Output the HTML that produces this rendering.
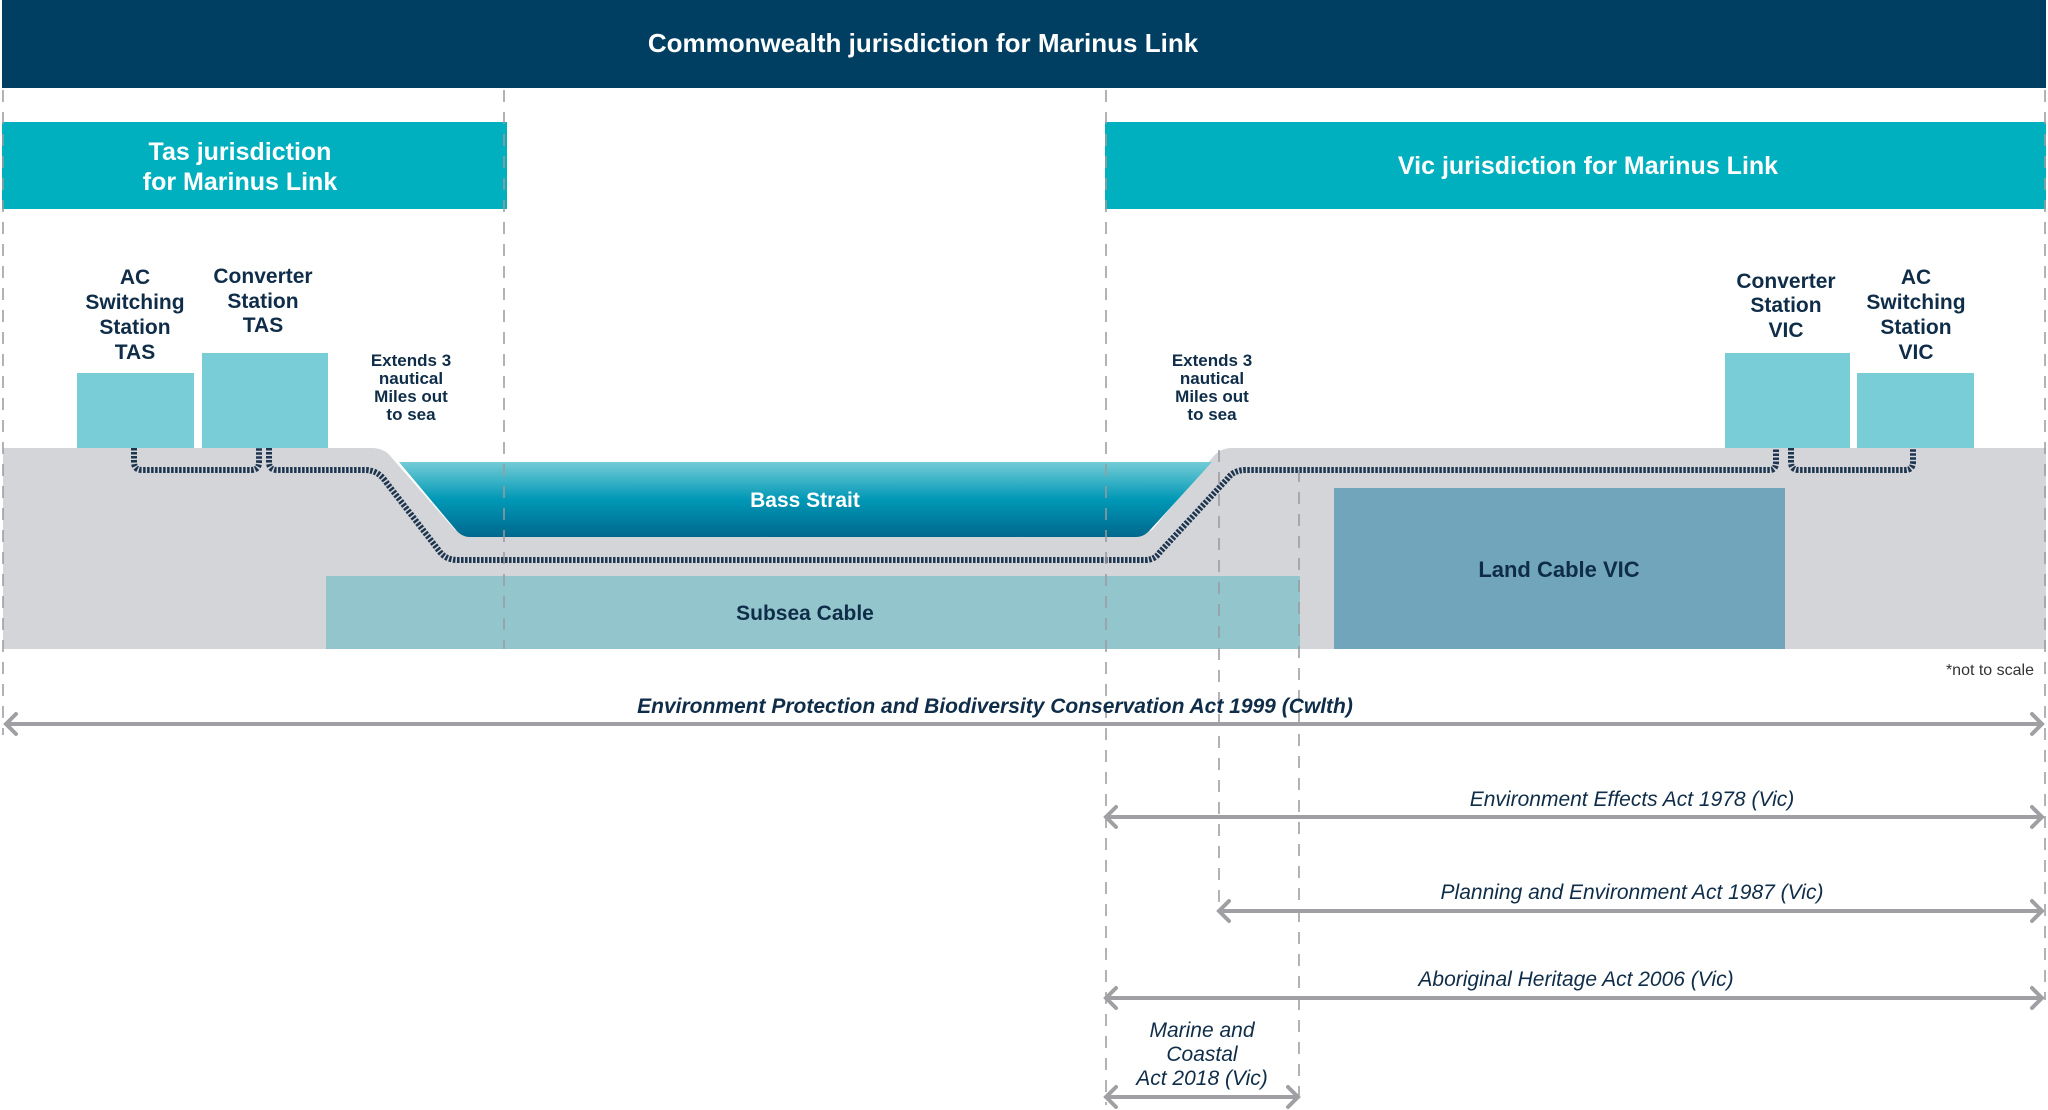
<!DOCTYPE html>
<html><head><meta charset="utf-8"><style>
html,body{margin:0;padding:0;background:#fff;}
svg{display:block;font-family:"Liberation Sans",sans-serif;}
</style></head><body>
<svg width="2048" height="1110" viewBox="0 0 2048 1110" xmlns="http://www.w3.org/2000/svg">
<defs>
<linearGradient id="w" x1="0" y1="0" x2="0" y2="1">
<stop offset="0" stop-color="#74ccd6"/><stop offset="0.5" stop-color="#0098b6"/><stop offset="1" stop-color="#00688e"/>
</linearGradient>
</defs>
<rect x="2" y="0" width="2044" height="88" fill="#003f62"/>
<text x="923" y="52" font-size="26" font-weight="bold" fill="#fff" text-anchor="middle">Commonwealth jurisdiction for Marinus Link</text>
<rect x="2" y="122" width="505" height="87" fill="#00b0be"/>
<text x="240" y="160" font-size="25" font-weight="bold" fill="#fff" text-anchor="middle">Tas jurisdiction</text>
<text x="240" y="190" font-size="25" font-weight="bold" fill="#fff" text-anchor="middle">for Marinus Link</text>
<rect x="1105" y="122" width="941" height="87" fill="#00b0be"/>
<text x="1588" y="174" font-size="25" font-weight="bold" fill="#fff" text-anchor="middle">Vic jurisdiction for Marinus Link</text>

<!-- ground -->
<path d="M3 448 H372 Q385 448 392 458 L455 530 L470 537 H1138 L1152 530 L1212 458 Q1220 448 1232 448 H2046 V649 H3 Z" fill="#d3d5d8"/>
<path d="M399 462 H1212 L1150 530 Q1144 537 1136 537 H470 Q462 537 456 530 Z" fill="url(#w)"/>
<rect x="326" y="576" width="974" height="73" fill="#93c6cc"/>
<rect x="1334" y="488" width="451" height="161" fill="#70a5bb"/>
<text x="805" y="507" font-size="21" font-weight="bold" fill="#fff" text-anchor="middle">Bass Strait</text>
<text x="805" y="620" font-size="21" font-weight="bold" fill="#0f2d48" text-anchor="middle">Subsea Cable</text>
<text x="1559" y="577" font-size="22" font-weight="bold" fill="#0f2d48" text-anchor="middle">Land Cable VIC</text>

<!-- stations -->
<rect x="77" y="373" width="117" height="75" fill="#79cdd6"/>
<rect x="202" y="353" width="126" height="95" fill="#79cdd6"/>
<rect x="1725" y="353" width="125" height="95" fill="#79cdd6"/>
<rect x="1857" y="373" width="117" height="75" fill="#79cdd6"/>

<!-- cables -->
<g fill="none" stroke="#1e3550" stroke-width="6" stroke-dasharray="2.5 1.5">
<path d="M134 448 V462 Q134 470 142 470 H251 Q259 470 259 462 V448"/>
<path d="M269 448 V462 Q269 470 277 470 H365 Q378 470 386 482 L440 552 Q446 560 458 560 H1145 Q1155 560 1160 552 L1228 478 Q1234 470 1246 470 H1770 Q1776 470 1776 462 V448"/>
<path d="M1791 448 V462 Q1791 470 1799 470 H1905 Q1913 470 1913 462 V448"/>
</g>

<!-- station labels -->
<g font-size="21" font-weight="bold" fill="#0f2d48" text-anchor="middle">
<text x="135" y="284">AC</text><text x="135" y="309">Switching</text><text x="135" y="334">Station</text><text x="135" y="359">TAS</text>
<text x="263" y="283">Converter</text><text x="263" y="308">Station</text><text x="263" y="332">TAS</text>
<text x="1786" y="288">Converter</text><text x="1786" y="312">Station</text><text x="1786" y="337">VIC</text>
<text x="1916" y="284">AC</text><text x="1916" y="309">Switching</text><text x="1916" y="334">Station</text><text x="1916" y="359">VIC</text>
</g>
<g font-size="17" font-weight="bold" fill="#0f2d48" text-anchor="middle">
<text x="411" y="366">Extends 3</text><text x="411" y="384">nautical</text><text x="411" y="402">Miles out</text><text x="411" y="420">to sea</text>
<text x="1212" y="366">Extends 3</text><text x="1212" y="384">nautical</text><text x="1212" y="402">Miles out</text><text x="1212" y="420">to sea</text>
</g>

<!-- dashed lines -->
<g stroke="#9a9a9e" stroke-width="1.5" stroke-dasharray="12 10">
<line x1="3" y1="90" x2="3" y2="735"/>
<line x1="504" y1="90" x2="504" y2="649"/>
<line x1="1106" y1="90" x2="1106" y2="1105"/>
<line x1="1219" y1="450" x2="1219" y2="911"/>
<line x1="1299" y1="470" x2="1299" y2="1105"/>
<line x1="2045" y1="90" x2="2045" y2="1000"/>
</g>

<text x="2034" y="675" font-size="16" fill="#333" text-anchor="end">*not to scale</text>

<!-- arrows -->
<g stroke="#a0a0a4" stroke-width="4" fill="none" stroke-linecap="round">
<path d="M6 724 H2042 M16 714 L6 724 L16 734 M2032 714 L2042 724 L2032 734"/>
<path d="M1106 817 H2042 M1116 807 L1106 817 L1116 827 M2032 807 L2042 817 L2032 827"/>
<path d="M1219 911 H2042 M1229 901 L1219 911 L1229 921 M2032 901 L2042 911 L2032 921"/>
<path d="M1106 998 H2042 M1116 988 L1106 998 L1116 1008 M2032 988 L2042 998 L2032 1008"/>
<path d="M1106 1097 H1298 M1116 1087 L1106 1097 L1116 1107 M1288 1087 L1298 1097 L1288 1107"/>
</g>
<g font-size="21" font-style="italic" fill="#0f2d48" text-anchor="middle">
<text x="995" y="713" font-weight="bold">Environment Protection and Biodiversity Conservation Act 1999 (Cwlth)</text>
<text x="1632" y="806">Environment Effects Act 1978 (Vic)</text>
<text x="1632" y="899">Planning and Environment Act 1987 (Vic)</text>
<text x="1576" y="986">Aboriginal Heritage Act 2006 (Vic)</text>
<text x="1202" y="1037">Marine and</text>
<text x="1202" y="1061">Coastal</text>
<text x="1202" y="1085">Act 2018 (Vic)</text>
</g>
</svg>
</body></html>
